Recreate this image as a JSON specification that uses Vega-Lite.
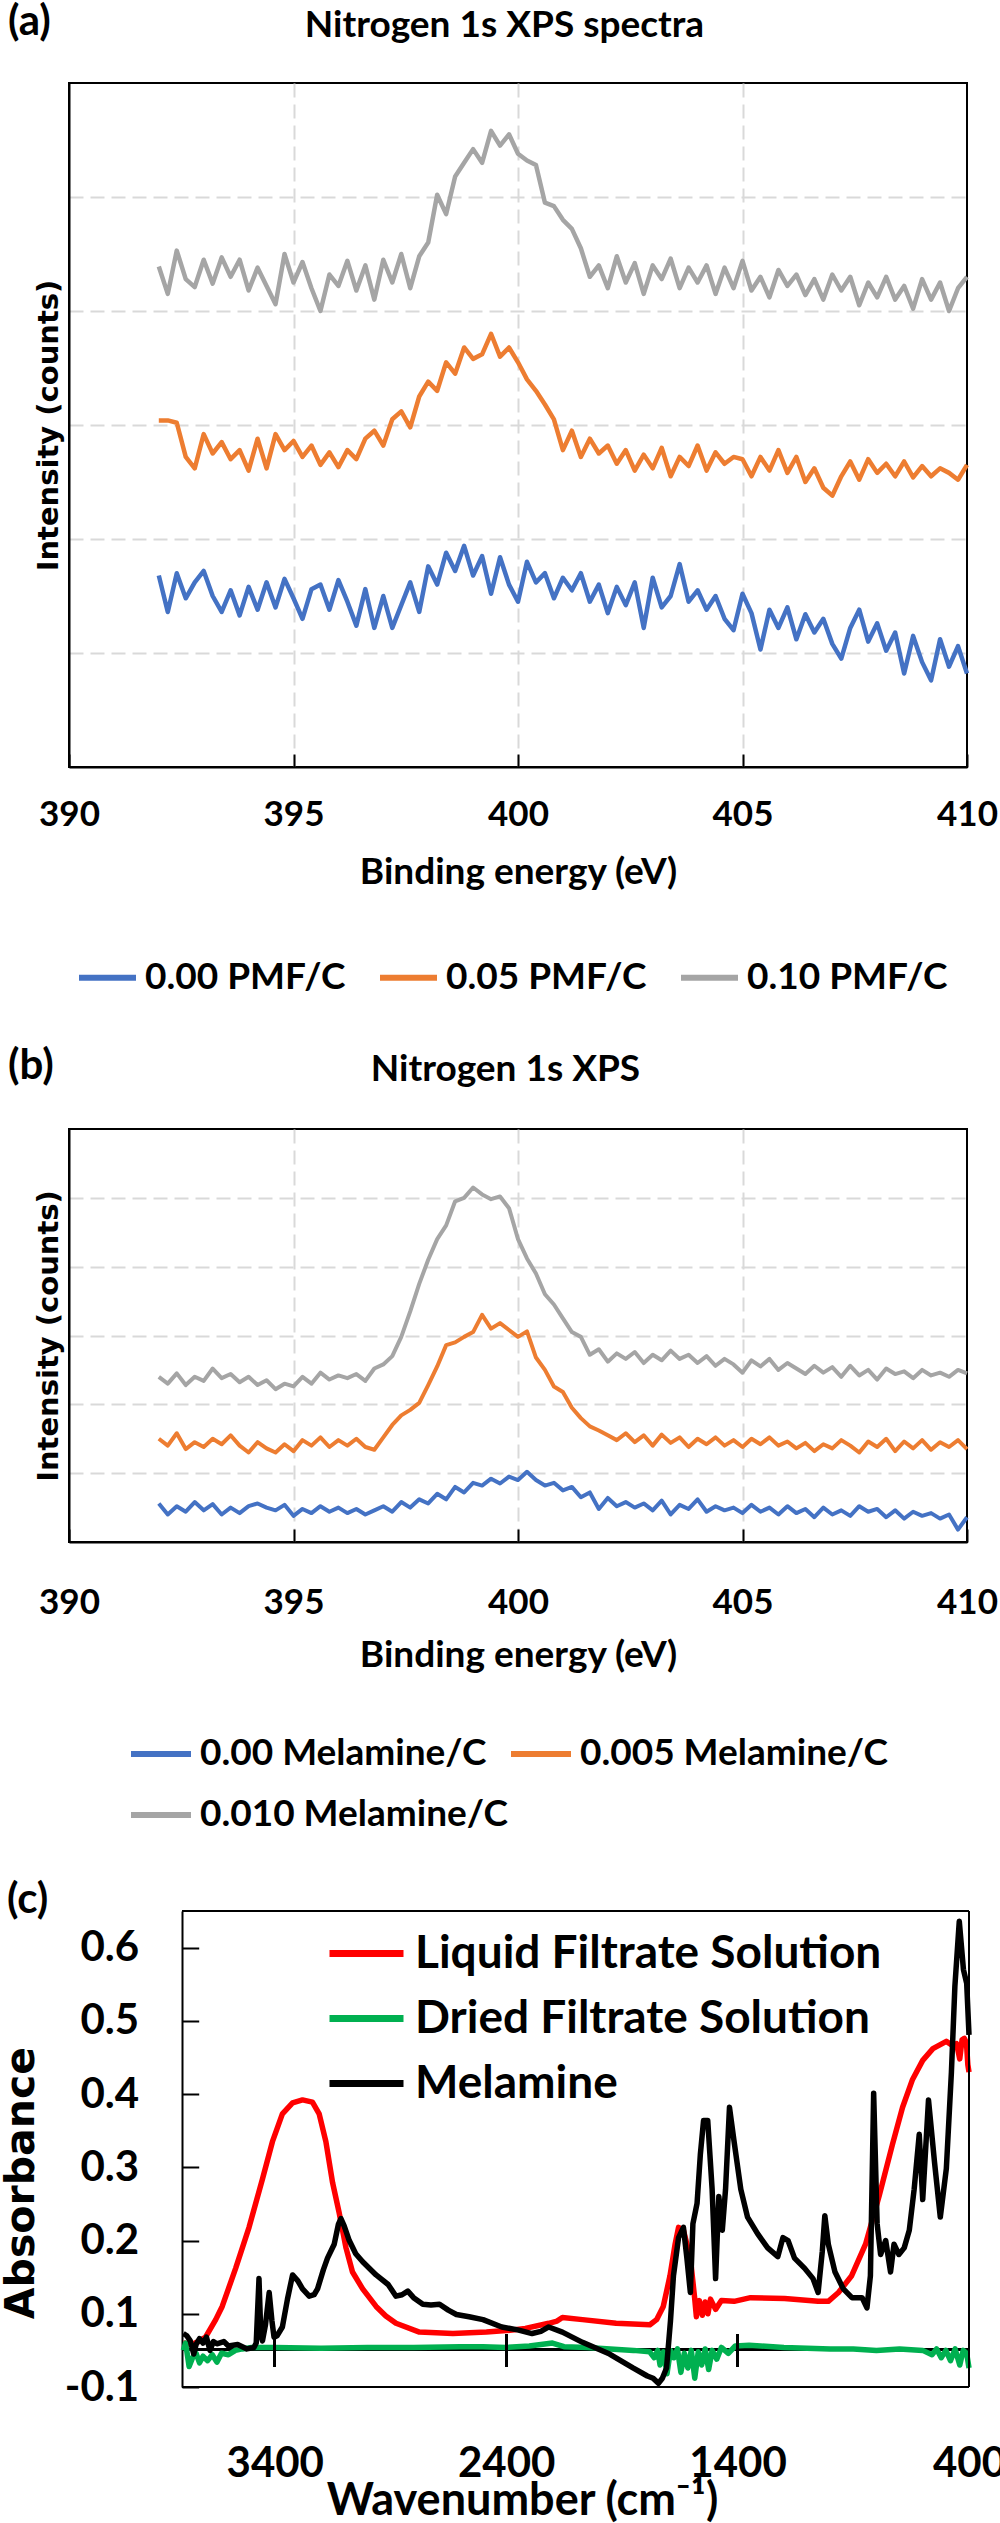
{
"$schema":"https://vega.github.io/schema/vega-lite/v6.json",
"background":"white",
"padding":{"left":0,"top":0,"right":0,"bottom":0},
"spacing":40,
"resolve":{"scale":{"color":"independent"},"legend":{"color":"independent"}},
"config":{
"font":"Lato",
"view":{"stroke":"black","strokeWidth":2},
"axis":{"labelFont":"Lato","titleFont":"Lato","labelFontWeight":"bold","titleFontWeight":"bold","labelColor":"#000","titleColor":"#000","domainColor":"#000","domainWidth":2,"tickColor":"#000","tickWidth":2,"gridColor":"#D9D9D9","gridWidth":2,"gridDash":[14,7],"labelFlush":false,"labelOverlap":false},
"legend":{"labelFont":"Lato","labelFontWeight":"bold","labelColor":"#000","symbolType":"stroke","symbolStrokeWidth":6,"labelLimit":0},
"title":{"font":"Lato","fontWeight":"bold","color":"#000"}
},
"vconcat":[
{
"width":898,"height":684,
"title":{"text":"(a)","anchor":"start","frame":"group","dx":-61,"offset":-38,"fontSize":42,"fontWeight":"bold"},
"data":{"values":[
{"s":"a","x":392,"v":1.68},{"s":"a","x":392.2,"v":1.36},{"s":"a","x":392.4,"v":1.7},{"s":"a","x":392.6,"v":1.48},{"s":"a","x":392.8,"v":1.62},{"s":"a","x":393,"v":1.72},{"s":"a","x":393.2,"v":1.5},{"s":"a","x":393.4,"v":1.36},{"s":"a","x":393.6,"v":1.55},{"s":"a","x":393.8,"v":1.33},
{"s":"a","x":394,"v":1.58},{"s":"a","x":394.2,"v":1.38},{"s":"a","x":394.4,"v":1.62},{"s":"a","x":394.6,"v":1.4},{"s":"a","x":394.8,"v":1.65},{"s":"a","x":395,"v":1.48},{"s":"a","x":395.2,"v":1.3},{"s":"a","x":395.4,"v":1.56},{"s":"a","x":395.6,"v":1.6},{"s":"a","x":395.8,"v":1.38},
{"s":"a","x":396,"v":1.64},{"s":"a","x":396.2,"v":1.45},{"s":"a","x":396.4,"v":1.24},{"s":"a","x":396.6,"v":1.56},{"s":"a","x":396.8,"v":1.22},{"s":"a","x":397,"v":1.5},{"s":"a","x":397.2,"v":1.22},{"s":"a","x":397.4,"v":1.42},{"s":"a","x":397.6,"v":1.62},{"s":"a","x":397.8,"v":1.36},
{"s":"a","x":398,"v":1.76},{"s":"a","x":398.2,"v":1.6},{"s":"a","x":398.4,"v":1.88},{"s":"a","x":398.6,"v":1.72},{"s":"a","x":398.8,"v":1.94},{"s":"a","x":399,"v":1.68},{"s":"a","x":399.2,"v":1.85},{"s":"a","x":399.4,"v":1.52},{"s":"a","x":399.6,"v":1.84},{"s":"a","x":399.8,"v":1.6},
{"s":"a","x":400,"v":1.45},{"s":"a","x":400.2,"v":1.8},{"s":"a","x":400.4,"v":1.62},{"s":"a","x":400.6,"v":1.7},{"s":"a","x":400.8,"v":1.48},{"s":"a","x":401,"v":1.66},{"s":"a","x":401.2,"v":1.55},{"s":"a","x":401.4,"v":1.7},{"s":"a","x":401.6,"v":1.45},{"s":"a","x":401.8,"v":1.6},
{"s":"a","x":402,"v":1.35},{"s":"a","x":402.2,"v":1.58},{"s":"a","x":402.4,"v":1.42},{"s":"a","x":402.6,"v":1.62},{"s":"a","x":402.8,"v":1.22},{"s":"a","x":403,"v":1.66},{"s":"a","x":403.2,"v":1.4},{"s":"a","x":403.4,"v":1.5},{"s":"a","x":403.6,"v":1.78},{"s":"a","x":403.8,"v":1.45},
{"s":"a","x":404,"v":1.55},{"s":"a","x":404.2,"v":1.38},{"s":"a","x":404.4,"v":1.5},{"s":"a","x":404.6,"v":1.3},{"s":"a","x":404.8,"v":1.2},{"s":"a","x":405,"v":1.52},{"s":"a","x":405.2,"v":1.35},{"s":"a","x":405.4,"v":1.03},{"s":"a","x":405.6,"v":1.38},{"s":"a","x":405.8,"v":1.22},
{"s":"a","x":406,"v":1.4},{"s":"a","x":406.2,"v":1.12},{"s":"a","x":406.4,"v":1.34},{"s":"a","x":406.6,"v":1.18},{"s":"a","x":406.8,"v":1.3},{"s":"a","x":407,"v":1.08},{"s":"a","x":407.2,"v":0.95},{"s":"a","x":407.4,"v":1.22},{"s":"a","x":407.6,"v":1.38},{"s":"a","x":407.8,"v":1.1},
{"s":"a","x":408,"v":1.26},{"s":"a","x":408.2,"v":1.02},{"s":"a","x":408.4,"v":1.18},{"s":"a","x":408.6,"v":0.82},{"s":"a","x":408.8,"v":1.15},{"s":"a","x":409,"v":0.92},{"s":"a","x":409.2,"v":0.76},{"s":"a","x":409.4,"v":1.12},{"s":"a","x":409.6,"v":0.88},{"s":"a","x":409.8,"v":1.06},{"s":"a","x":410,"v":0.82},
{"s":"b","x":392,"v":3.04},{"s":"b","x":392.2,"v":3.04},{"s":"b","x":392.4,"v":3.02},{"s":"b","x":392.6,"v":2.72},{"s":"b","x":392.8,"v":2.62},{"s":"b","x":393,"v":2.92},{"s":"b","x":393.2,"v":2.75},{"s":"b","x":393.4,"v":2.85},{"s":"b","x":393.6,"v":2.7},{"s":"b","x":393.8,"v":2.78},
{"s":"b","x":394,"v":2.6},{"s":"b","x":394.2,"v":2.88},{"s":"b","x":394.4,"v":2.62},{"s":"b","x":394.6,"v":2.92},{"s":"b","x":394.8,"v":2.78},{"s":"b","x":395,"v":2.86},{"s":"b","x":395.2,"v":2.72},{"s":"b","x":395.4,"v":2.82},{"s":"b","x":395.6,"v":2.65},{"s":"b","x":395.8,"v":2.76},
{"s":"b","x":396,"v":2.63},{"s":"b","x":396.2,"v":2.78},{"s":"b","x":396.4,"v":2.7},{"s":"b","x":396.6,"v":2.88},{"s":"b","x":396.8,"v":2.95},{"s":"b","x":397,"v":2.82},{"s":"b","x":397.2,"v":3.05},{"s":"b","x":397.4,"v":3.12},{"s":"b","x":397.6,"v":2.98},{"s":"b","x":397.8,"v":3.25},
{"s":"b","x":398,"v":3.38},{"s":"b","x":398.2,"v":3.3},{"s":"b","x":398.4,"v":3.55},{"s":"b","x":398.6,"v":3.45},{"s":"b","x":398.8,"v":3.68},{"s":"b","x":399,"v":3.58},{"s":"b","x":399.2,"v":3.62},{"s":"b","x":399.4,"v":3.8},{"s":"b","x":399.6,"v":3.6},{"s":"b","x":399.8,"v":3.68},
{"s":"b","x":400,"v":3.55},{"s":"b","x":400.2,"v":3.4},{"s":"b","x":400.4,"v":3.3},{"s":"b","x":400.6,"v":3.18},{"s":"b","x":400.8,"v":3.05},{"s":"b","x":401,"v":2.78},{"s":"b","x":401.2,"v":2.95},{"s":"b","x":401.4,"v":2.72},{"s":"b","x":401.6,"v":2.88},{"s":"b","x":401.8,"v":2.75},
{"s":"b","x":402,"v":2.82},{"s":"b","x":402.2,"v":2.66},{"s":"b","x":402.4,"v":2.78},{"s":"b","x":402.6,"v":2.6},{"s":"b","x":402.8,"v":2.74},{"s":"b","x":403,"v":2.62},{"s":"b","x":403.2,"v":2.8},{"s":"b","x":403.4,"v":2.55},{"s":"b","x":403.6,"v":2.72},{"s":"b","x":403.8,"v":2.64},
{"s":"b","x":404,"v":2.82},{"s":"b","x":404.2,"v":2.6},{"s":"b","x":404.4,"v":2.76},{"s":"b","x":404.6,"v":2.66},{"s":"b","x":404.8,"v":2.72},{"s":"b","x":405,"v":2.7},{"s":"b","x":405.2,"v":2.55},{"s":"b","x":405.4,"v":2.72},{"s":"b","x":405.6,"v":2.6},{"s":"b","x":405.8,"v":2.78},
{"s":"b","x":406,"v":2.58},{"s":"b","x":406.2,"v":2.72},{"s":"b","x":406.4,"v":2.5},{"s":"b","x":406.6,"v":2.62},{"s":"b","x":406.8,"v":2.45},{"s":"b","x":407,"v":2.38},{"s":"b","x":407.2,"v":2.55},{"s":"b","x":407.4,"v":2.68},{"s":"b","x":407.6,"v":2.52},{"s":"b","x":407.8,"v":2.7},
{"s":"b","x":408,"v":2.58},{"s":"b","x":408.2,"v":2.66},{"s":"b","x":408.4,"v":2.55},{"s":"b","x":408.6,"v":2.68},{"s":"b","x":408.8,"v":2.54},{"s":"b","x":409,"v":2.64},{"s":"b","x":409.2,"v":2.55},{"s":"b","x":409.4,"v":2.62},{"s":"b","x":409.6,"v":2.58},{"s":"b","x":409.8,"v":2.52},{"s":"b","x":410,"v":2.65},
{"s":"c","x":392,"v":4.39},{"s":"c","x":392.2,"v":4.15},{"s":"c","x":392.4,"v":4.53},{"s":"c","x":392.6,"v":4.28},{"s":"c","x":392.8,"v":4.21},{"s":"c","x":393,"v":4.45},{"s":"c","x":393.2,"v":4.24},{"s":"c","x":393.4,"v":4.47},{"s":"c","x":393.6,"v":4.3},{"s":"c","x":393.8,"v":4.45},
{"s":"c","x":394,"v":4.18},{"s":"c","x":394.2,"v":4.38},{"s":"c","x":394.4,"v":4.22},{"s":"c","x":394.6,"v":4.06},{"s":"c","x":394.8,"v":4.5},{"s":"c","x":395,"v":4.25},{"s":"c","x":395.2,"v":4.43},{"s":"c","x":395.4,"v":4.2},{"s":"c","x":395.6,"v":4.0},{"s":"c","x":395.8,"v":4.32},
{"s":"c","x":396,"v":4.22},{"s":"c","x":396.2,"v":4.44},{"s":"c","x":396.4,"v":4.18},{"s":"c","x":396.6,"v":4.4},{"s":"c","x":396.8,"v":4.1},{"s":"c","x":397,"v":4.45},{"s":"c","x":397.2,"v":4.25},{"s":"c","x":397.4,"v":4.5},{"s":"c","x":397.6,"v":4.2},{"s":"c","x":397.8,"v":4.48},
{"s":"c","x":398,"v":4.6},{"s":"c","x":398.2,"v":5.02},{"s":"c","x":398.4,"v":4.85},{"s":"c","x":398.6,"v":5.18},{"s":"c","x":398.8,"v":5.3},{"s":"c","x":399,"v":5.42},{"s":"c","x":399.2,"v":5.3},{"s":"c","x":399.4,"v":5.58},{"s":"c","x":399.6,"v":5.45},{"s":"c","x":399.8,"v":5.55},
{"s":"c","x":400,"v":5.38},{"s":"c","x":400.2,"v":5.32},{"s":"c","x":400.4,"v":5.28},{"s":"c","x":400.6,"v":4.95},{"s":"c","x":400.8,"v":4.92},{"s":"c","x":401,"v":4.8},{"s":"c","x":401.2,"v":4.72},{"s":"c","x":401.4,"v":4.55},{"s":"c","x":401.6,"v":4.3},{"s":"c","x":401.8,"v":4.4},
{"s":"c","x":402,"v":4.2},{"s":"c","x":402.2,"v":4.48},{"s":"c","x":402.4,"v":4.25},{"s":"c","x":402.6,"v":4.42},{"s":"c","x":402.8,"v":4.15},{"s":"c","x":403,"v":4.4},{"s":"c","x":403.2,"v":4.28},{"s":"c","x":403.4,"v":4.46},{"s":"c","x":403.6,"v":4.2},{"s":"c","x":403.8,"v":4.38},
{"s":"c","x":404,"v":4.25},{"s":"c","x":404.2,"v":4.4},{"s":"c","x":404.4,"v":4.15},{"s":"c","x":404.6,"v":4.38},{"s":"c","x":404.8,"v":4.2},{"s":"c","x":405,"v":4.44},{"s":"c","x":405.2,"v":4.18},{"s":"c","x":405.4,"v":4.3},{"s":"c","x":405.6,"v":4.12},{"s":"c","x":405.8,"v":4.36},
{"s":"c","x":406,"v":4.22},{"s":"c","x":406.2,"v":4.32},{"s":"c","x":406.4,"v":4.14},{"s":"c","x":406.6,"v":4.28},{"s":"c","x":406.8,"v":4.1},{"s":"c","x":407,"v":4.32},{"s":"c","x":407.2,"v":4.18},{"s":"c","x":407.4,"v":4.3},{"s":"c","x":407.6,"v":4.05},{"s":"c","x":407.8,"v":4.25},
{"s":"c","x":408,"v":4.12},{"s":"c","x":408.2,"v":4.3},{"s":"c","x":408.4,"v":4.1},{"s":"c","x":408.6,"v":4.22},{"s":"c","x":408.8,"v":4.02},{"s":"c","x":409,"v":4.28},{"s":"c","x":409.2,"v":4.1},{"s":"c","x":409.4,"v":4.25},{"s":"c","x":409.6,"v":4.0},{"s":"c","x":409.8,"v":4.2},{"s":"c","x":410,"v":4.3}
]},
"layer":[
{"mark":{"type":"line","strokeWidth":4.5,"strokeJoin":"round"},
"encoding":{
"x":{"field":"x","type":"quantitative","scale":{"domain":[390,410],"nice":false,"zero":false},
"axis":{"orient":"bottom","values":[390,395,400,405,410],"format":"d","grid":false,"tickSize":-13,"labelPadding":43,"labelFontSize":35,"title":"Binding energy (eV)","titleFontSize":37,"titleY":105,"titleBaseline":"middle"}},
"y":{"field":"v","type":"quantitative","scale":{"domain":[0,6],"nice":false,"zero":false},
"axis":{"values":[1,2,3,4,5],"labels":false,"ticks":false,"grid":true,"title":"Intensity (counts)","titleFont":"DejaVu Sans","titleFontSize":29,"titlePadding":6}},
"color":{"field":"s","type":"nominal","scale":{"domain":["a","b","c"],"range":["#4472C4","#ED7D31","#A5A5A5"]},
"legend":{"title":null,"orient":"none","legendX":0,"legendY":856,"padding":7,"direction":"horizontal","columns":3,"columnPadding":22,"symbolSize":3249,"labelFontSize":37,"labelOffset":6,
"labelExpr":"datum.value=='a'?'0.00 PMF/C':datum.value=='b'?'0.05 PMF/C':'0.10 PMF/C'"}}
}},
{"mark":{"type":"line","opacity":0},
"encoding":{
"x":{"field":"x","type":"quantitative","axis":{"orient":"top","values":[395,400,405],"labels":false,"ticks":false,"domain":false,"grid":true,"title":"Nitrogen 1s XPS spectra","titleFontSize":37,"titleX":435,"titleY":-58,"titleBaseline":"middle","titleAlign":"center"}}
}}
]
},
{
"width":898,"height":413,
"title":{"text":"(b)","anchor":"start","frame":"group","dx":-61,"offset":-38,"fontSize":42,"fontWeight":"bold"},
"data":{"values":[
{"s":"d","x":392,"v":0.56},{"s":"d","x":392.2,"v":0.4},{"s":"d","x":392.4,"v":0.52},{"s":"d","x":392.6,"v":0.44},{"s":"d","x":392.8,"v":0.58},{"s":"d","x":393,"v":0.46},{"s":"d","x":393.2,"v":0.55},{"s":"d","x":393.4,"v":0.4},{"s":"d","x":393.6,"v":0.5},{"s":"d","x":393.8,"v":0.42},
{"s":"d","x":394,"v":0.52},{"s":"d","x":394.2,"v":0.56},{"s":"d","x":394.4,"v":0.5},{"s":"d","x":394.6,"v":0.46},{"s":"d","x":394.8,"v":0.54},{"s":"d","x":395,"v":0.38},{"s":"d","x":395.2,"v":0.48},{"s":"d","x":395.4,"v":0.42},{"s":"d","x":395.6,"v":0.52},{"s":"d","x":395.8,"v":0.44},
{"s":"d","x":396,"v":0.5},{"s":"d","x":396.2,"v":0.42},{"s":"d","x":396.4,"v":0.48},{"s":"d","x":396.6,"v":0.4},{"s":"d","x":396.8,"v":0.46},{"s":"d","x":397,"v":0.52},{"s":"d","x":397.2,"v":0.44},{"s":"d","x":397.4,"v":0.58},{"s":"d","x":397.6,"v":0.5},{"s":"d","x":397.8,"v":0.62},
{"s":"d","x":398,"v":0.56},{"s":"d","x":398.2,"v":0.7},{"s":"d","x":398.4,"v":0.62},{"s":"d","x":398.6,"v":0.8},{"s":"d","x":398.8,"v":0.72},{"s":"d","x":399,"v":0.86},{"s":"d","x":399.2,"v":0.82},{"s":"d","x":399.4,"v":0.92},{"s":"d","x":399.6,"v":0.85},{"s":"d","x":399.8,"v":0.95},
{"s":"d","x":400,"v":0.9},{"s":"d","x":400.2,"v":1.02},{"s":"d","x":400.4,"v":0.9},{"s":"d","x":400.6,"v":0.82},{"s":"d","x":400.8,"v":0.86},{"s":"d","x":401,"v":0.75},{"s":"d","x":401.2,"v":0.8},{"s":"d","x":401.4,"v":0.65},{"s":"d","x":401.6,"v":0.72},{"s":"d","x":401.8,"v":0.48},
{"s":"d","x":402,"v":0.64},{"s":"d","x":402.2,"v":0.52},{"s":"d","x":402.4,"v":0.58},{"s":"d","x":402.6,"v":0.5},{"s":"d","x":402.8,"v":0.56},{"s":"d","x":403,"v":0.46},{"s":"d","x":403.2,"v":0.6},{"s":"d","x":403.4,"v":0.4},{"s":"d","x":403.6,"v":0.54},{"s":"d","x":403.8,"v":0.48},
{"s":"d","x":404,"v":0.62},{"s":"d","x":404.2,"v":0.44},{"s":"d","x":404.4,"v":0.52},{"s":"d","x":404.6,"v":0.46},{"s":"d","x":404.8,"v":0.5},{"s":"d","x":405,"v":0.42},{"s":"d","x":405.2,"v":0.54},{"s":"d","x":405.4,"v":0.44},{"s":"d","x":405.6,"v":0.5},{"s":"d","x":405.8,"v":0.4},
{"s":"d","x":406,"v":0.52},{"s":"d","x":406.2,"v":0.42},{"s":"d","x":406.4,"v":0.48},{"s":"d","x":406.6,"v":0.36},{"s":"d","x":406.8,"v":0.5},{"s":"d","x":407,"v":0.4},{"s":"d","x":407.2,"v":0.46},{"s":"d","x":407.4,"v":0.38},{"s":"d","x":407.6,"v":0.52},{"s":"d","x":407.8,"v":0.44},
{"s":"d","x":408,"v":0.48},{"s":"d","x":408.2,"v":0.36},{"s":"d","x":408.4,"v":0.46},{"s":"d","x":408.6,"v":0.34},{"s":"d","x":408.8,"v":0.44},{"s":"d","x":409,"v":0.38},{"s":"d","x":409.2,"v":0.42},{"s":"d","x":409.4,"v":0.34},{"s":"d","x":409.6,"v":0.4},{"s":"d","x":409.8,"v":0.18},{"s":"d","x":410,"v":0.36},
{"s":"e","x":392,"v":1.5},{"s":"e","x":392.2,"v":1.4},{"s":"e","x":392.4,"v":1.58},{"s":"e","x":392.6,"v":1.35},{"s":"e","x":392.8,"v":1.45},{"s":"e","x":393,"v":1.38},{"s":"e","x":393.2,"v":1.5},{"s":"e","x":393.4,"v":1.42},{"s":"e","x":393.6,"v":1.55},{"s":"e","x":393.8,"v":1.4},
{"s":"e","x":394,"v":1.3},{"s":"e","x":394.2,"v":1.45},{"s":"e","x":394.4,"v":1.36},{"s":"e","x":394.6,"v":1.3},{"s":"e","x":394.8,"v":1.42},{"s":"e","x":395,"v":1.32},{"s":"e","x":395.2,"v":1.48},{"s":"e","x":395.4,"v":1.4},{"s":"e","x":395.6,"v":1.52},{"s":"e","x":395.8,"v":1.38},
{"s":"e","x":396,"v":1.48},{"s":"e","x":396.2,"v":1.4},{"s":"e","x":396.4,"v":1.5},{"s":"e","x":396.6,"v":1.38},{"s":"e","x":396.8,"v":1.34},{"s":"e","x":397,"v":1.52},{"s":"e","x":397.2,"v":1.7},{"s":"e","x":397.4,"v":1.84},{"s":"e","x":397.6,"v":1.92},{"s":"e","x":397.8,"v":2.02},
{"s":"e","x":398,"v":2.28},{"s":"e","x":398.2,"v":2.55},{"s":"e","x":398.4,"v":2.86},{"s":"e","x":398.6,"v":2.9},{"s":"e","x":398.8,"v":2.98},{"s":"e","x":399,"v":3.05},{"s":"e","x":399.2,"v":3.3},{"s":"e","x":399.4,"v":3.1},{"s":"e","x":399.6,"v":3.18},{"s":"e","x":399.8,"v":3.08},
{"s":"e","x":400,"v":2.98},{"s":"e","x":400.2,"v":3.06},{"s":"e","x":400.4,"v":2.68},{"s":"e","x":400.6,"v":2.5},{"s":"e","x":400.8,"v":2.26},{"s":"e","x":401,"v":2.18},{"s":"e","x":401.2,"v":1.95},{"s":"e","x":401.4,"v":1.8},{"s":"e","x":401.6,"v":1.68},{"s":"e","x":401.8,"v":1.62},
{"s":"e","x":402,"v":1.55},{"s":"e","x":402.2,"v":1.48},{"s":"e","x":402.4,"v":1.58},{"s":"e","x":402.6,"v":1.45},{"s":"e","x":402.8,"v":1.55},{"s":"e","x":403,"v":1.4},{"s":"e","x":403.2,"v":1.56},{"s":"e","x":403.4,"v":1.44},{"s":"e","x":403.6,"v":1.52},{"s":"e","x":403.8,"v":1.38},
{"s":"e","x":404,"v":1.5},{"s":"e","x":404.2,"v":1.42},{"s":"e","x":404.4,"v":1.52},{"s":"e","x":404.6,"v":1.4},{"s":"e","x":404.8,"v":1.48},{"s":"e","x":405,"v":1.38},{"s":"e","x":405.2,"v":1.5},{"s":"e","x":405.4,"v":1.42},{"s":"e","x":405.6,"v":1.52},{"s":"e","x":405.8,"v":1.4},
{"s":"e","x":406,"v":1.46},{"s":"e","x":406.2,"v":1.36},{"s":"e","x":406.4,"v":1.44},{"s":"e","x":406.6,"v":1.32},{"s":"e","x":406.8,"v":1.42},{"s":"e","x":407,"v":1.36},{"s":"e","x":407.2,"v":1.48},{"s":"e","x":407.4,"v":1.4},{"s":"e","x":407.6,"v":1.3},{"s":"e","x":407.8,"v":1.46},
{"s":"e","x":408,"v":1.38},{"s":"e","x":408.2,"v":1.5},{"s":"e","x":408.4,"v":1.32},{"s":"e","x":408.6,"v":1.46},{"s":"e","x":408.8,"v":1.36},{"s":"e","x":409,"v":1.48},{"s":"e","x":409.2,"v":1.34},{"s":"e","x":409.4,"v":1.45},{"s":"e","x":409.6,"v":1.38},{"s":"e","x":409.8,"v":1.48},{"s":"e","x":410,"v":1.35},
{"s":"f","x":392,"v":2.4},{"s":"f","x":392.2,"v":2.3},{"s":"f","x":392.4,"v":2.45},{"s":"f","x":392.6,"v":2.28},{"s":"f","x":392.8,"v":2.4},{"s":"f","x":393,"v":2.34},{"s":"f","x":393.2,"v":2.52},{"s":"f","x":393.4,"v":2.38},{"s":"f","x":393.6,"v":2.44},{"s":"f","x":393.8,"v":2.32},
{"s":"f","x":394,"v":2.4},{"s":"f","x":394.2,"v":2.28},{"s":"f","x":394.4,"v":2.35},{"s":"f","x":394.6,"v":2.22},{"s":"f","x":394.8,"v":2.3},{"s":"f","x":395,"v":2.26},{"s":"f","x":395.2,"v":2.4},{"s":"f","x":395.4,"v":2.3},{"s":"f","x":395.6,"v":2.46},{"s":"f","x":395.8,"v":2.36},
{"s":"f","x":396,"v":2.42},{"s":"f","x":396.2,"v":2.38},{"s":"f","x":396.4,"v":2.44},{"s":"f","x":396.6,"v":2.34},{"s":"f","x":396.8,"v":2.52},{"s":"f","x":397,"v":2.58},{"s":"f","x":397.2,"v":2.7},{"s":"f","x":397.4,"v":2.98},{"s":"f","x":397.6,"v":3.35},{"s":"f","x":397.8,"v":3.75},
{"s":"f","x":398,"v":4.1},{"s":"f","x":398.2,"v":4.4},{"s":"f","x":398.4,"v":4.6},{"s":"f","x":398.6,"v":4.95},{"s":"f","x":398.8,"v":5.0},{"s":"f","x":399,"v":5.15},{"s":"f","x":399.2,"v":5.05},{"s":"f","x":399.4,"v":4.98},{"s":"f","x":399.6,"v":5.02},{"s":"f","x":399.8,"v":4.85},
{"s":"f","x":400,"v":4.4},{"s":"f","x":400.2,"v":4.12},{"s":"f","x":400.4,"v":3.9},{"s":"f","x":400.6,"v":3.6},{"s":"f","x":400.8,"v":3.45},{"s":"f","x":401,"v":3.25},{"s":"f","x":401.2,"v":3.05},{"s":"f","x":401.4,"v":2.98},{"s":"f","x":401.6,"v":2.72},{"s":"f","x":401.8,"v":2.8},
{"s":"f","x":402,"v":2.62},{"s":"f","x":402.2,"v":2.74},{"s":"f","x":402.4,"v":2.66},{"s":"f","x":402.6,"v":2.76},{"s":"f","x":402.8,"v":2.6},{"s":"f","x":403,"v":2.72},{"s":"f","x":403.2,"v":2.64},{"s":"f","x":403.4,"v":2.78},{"s":"f","x":403.6,"v":2.66},{"s":"f","x":403.8,"v":2.72},
{"s":"f","x":404,"v":2.6},{"s":"f","x":404.2,"v":2.7},{"s":"f","x":404.4,"v":2.56},{"s":"f","x":404.6,"v":2.66},{"s":"f","x":404.8,"v":2.58},{"s":"f","x":405,"v":2.46},{"s":"f","x":405.2,"v":2.64},{"s":"f","x":405.4,"v":2.55},{"s":"f","x":405.6,"v":2.66},{"s":"f","x":405.8,"v":2.5},
{"s":"f","x":406,"v":2.6},{"s":"f","x":406.2,"v":2.52},{"s":"f","x":406.4,"v":2.44},{"s":"f","x":406.6,"v":2.56},{"s":"f","x":406.8,"v":2.46},{"s":"f","x":407,"v":2.54},{"s":"f","x":407.2,"v":2.4},{"s":"f","x":407.4,"v":2.56},{"s":"f","x":407.6,"v":2.42},{"s":"f","x":407.8,"v":2.5},
{"s":"f","x":408,"v":2.36},{"s":"f","x":408.2,"v":2.52},{"s":"f","x":408.4,"v":2.44},{"s":"f","x":408.6,"v":2.48},{"s":"f","x":408.8,"v":2.38},{"s":"f","x":409,"v":2.5},{"s":"f","x":409.2,"v":2.42},{"s":"f","x":409.4,"v":2.46},{"s":"f","x":409.6,"v":2.4},{"s":"f","x":409.8,"v":2.5},{"s":"f","x":410,"v":2.45}
]},
"layer":[
{"mark":{"type":"line","strokeWidth":4,"strokeJoin":"round"},
"encoding":{
"x":{"field":"x","type":"quantitative","scale":{"domain":[390,410],"nice":false,"zero":false},
"axis":{"orient":"bottom","values":[390,395,400,405,410],"format":"d","grid":false,"tickSize":-13,"labelPadding":56,"labelFontSize":35,"title":"Binding energy (eV)","titleFontSize":37,"titleY":113,"titleBaseline":"middle"}},
"y":{"field":"v","type":"quantitative","scale":{"domain":[0,6],"nice":false,"zero":false},
"axis":{"values":[1,2,3,4,5],"labels":false,"ticks":false,"grid":true,"title":"Intensity (counts)","titleFont":"DejaVu Sans","titleFontSize":29,"titlePadding":6}},
"color":{"field":"s","type":"nominal","scale":{"domain":["d","e","f"],"range":["#4472C4","#ED7D31","#A5A5A5"]},
"legend":{"title":null,"orient":"none","legendX":54,"legendY":587,"padding":5,"direction":"horizontal","columns":2,"columnPadding":-22,"rowPadding":10,"symbolSize":3600,"labelFontSize":37,"labelOffset":6,
"labelExpr":"datum.value=='d'?'0.00 Melamine/C':datum.value=='e'?'0.005 Melamine/C':'0.010 Melamine/C'"}}
}},
{"mark":{"type":"line","opacity":0},
"encoding":{
"x":{"field":"x","type":"quantitative","axis":{"orient":"top","values":[395,400,405],"labels":false,"ticks":false,"domain":false,"grid":true,"title":"Nitrogen 1s XPS","titleFontSize":37,"titleX":436,"titleY":-60,"titleBaseline":"middle","titleAlign":"center"}}
}}
]
},
{
"width":900,"height":476,
"view":{"stroke":null},
"title":{"text":"(c)","anchor":"start","frame":"group","dx":-62,"offset":-12,"fontSize":42,"fontWeight":"bold"},
"data":{"values":[
{"s":"L","w":3795,"v":0.06},{"s":"L","w":3760,"v":0.058},{"s":"L","w":3730,"v":0.062},{"s":"L","w":3699,"v":0.068},{"s":"L","w":3655,"v":0.092},{"s":"L","w":3627,"v":0.11},{"s":"L","w":3569,"v":0.162},{"s":"L","w":3511,"v":0.218},{"s":"L","w":3453,"v":0.284},{"s":"L","w":3410,"v":0.335},{"s":"L","w":3367,"v":0.373},{"s":"L","w":3323,"v":0.388},{"s":"L","w":3280,"v":0.392},{"s":"L","w":3237,"v":0.389},{"s":"L","w":3208,"v":0.373},{"s":"L","w":3179,"v":0.335},{"s":"L","w":3150,"v":0.279},{"s":"L","w":3121,"v":0.237},{"s":"L","w":3092,"v":0.19},{"s":"L","w":3064,"v":0.157},{"s":"L","w":3020,"v":0.134},{"s":"L","w":2962,"v":0.11},{"s":"L","w":2920,"v":0.097},{"s":"L","w":2876,"v":0.087},{"s":"L","w":2775,"v":0.075},{"s":"L","w":2630,"v":0.073},{"s":"L","w":2485,"v":0.075},{"s":"L","w":2400,"v":0.077},{"s":"L","w":2317,"v":0.08},{"s":"L","w":2216,"v":0.087},{"s":"L","w":2180,"v":0.09},{"s":"L","w":2157,"v":0.095},{"s":"L","w":2070,"v":0.092},{"s":"L","w":1925,"v":0.087},{"s":"L","w":1779,"v":0.085},{"s":"L","w":1750,"v":0.092},{"s":"L","w":1721,"v":0.11},{"s":"L","w":1692,"v":0.152},{"s":"L","w":1670,"v":0.195},{"s":"L","w":1655,"v":0.218},{"s":"L","w":1634,"v":0.214},{"s":"L","w":1604,"v":0.176},{"s":"L","w":1585,"v":0.12},{"s":"L","w":1578,"v":0.096},{"s":"L","w":1565,"v":0.118},{"s":"L","w":1552,"v":0.098},{"s":"L","w":1540,"v":0.116},{"s":"L","w":1528,"v":0.1},{"s":"L","w":1517,"v":0.12},{"s":"L","w":1495,"v":0.106},{"s":"L","w":1470,"v":0.118},{"s":"L","w":1415,"v":0.117},{"s":"L","w":1344,"v":0.122},{"s":"L","w":1197,"v":0.121},{"s":"L","w":1052,"v":0.117},{"s":"L","w":1008,"v":0.117},{"s":"L","w":964,"v":0.129},{"s":"L","w":907,"v":0.152},{"s":"L","w":847,"v":0.195},{"s":"L","w":789,"v":0.26},{"s":"L","w":731,"v":0.331},{"s":"L","w":687,"v":0.382},{"s":"L","w":644,"v":0.42},{"s":"L","w":600,"v":0.446},{"s":"L","w":556,"v":0.462},{"s":"L","w":498,"v":0.472},{"s":"L","w":470,"v":0.466},{"s":"L","w":454,"v":0.469},{"s":"L","w":440,"v":0.448},{"s":"L","w":430,"v":0.474},{"s":"L","w":420,"v":0.476},{"s":"L","w":411,"v":0.47},{"s":"L","w":405,"v":0.44},{"s":"L","w":400,"v":0.43},
{"s":"D","w":3795,"v":0.05},{"s":"D","w":3785,"v":0.06},{"s":"D","w":3770,"v":0.028},{"s":"D","w":3755,"v":0.04},{"s":"D","w":3740,"v":0.046},{"s":"D","w":3725,"v":0.033},{"s":"D","w":3710,"v":0.042},{"s":"D","w":3690,"v":0.036},{"s":"D","w":3670,"v":0.044},{"s":"D","w":3650,"v":0.034},{"s":"D","w":3630,"v":0.046},{"s":"D","w":3600,"v":0.044},{"s":"D","w":3570,"v":0.05},{"s":"D","w":3540,"v":0.052},{"s":"D","w":3500,"v":0.054},{"s":"D","w":3400,"v":0.054},{"s":"D","w":3200,"v":0.053},{"s":"D","w":3000,"v":0.054},{"s":"D","w":2800,"v":0.054},{"s":"D","w":2600,"v":0.055},{"s":"D","w":2500,"v":0.055},{"s":"D","w":2400,"v":0.054},{"s":"D","w":2300,"v":0.056},{"s":"D","w":2200,"v":0.06},{"s":"D","w":2150,"v":0.055},{"s":"D","w":2050,"v":0.054},{"s":"D","w":1950,"v":0.052},{"s":"D","w":1850,"v":0.05},{"s":"D","w":1780,"v":0.048},{"s":"D","w":1760,"v":0.04},{"s":"D","w":1745,"v":0.05},{"s":"D","w":1735,"v":0.03},{"s":"D","w":1720,"v":0.048},{"s":"D","w":1705,"v":0.018},{"s":"D","w":1690,"v":0.05},{"s":"D","w":1675,"v":0.04},{"s":"D","w":1660,"v":0.052},{"s":"D","w":1645,"v":0.02},{"s":"D","w":1630,"v":0.046},{"s":"D","w":1615,"v":0.026},{"s":"D","w":1600,"v":0.05},{"s":"D","w":1585,"v":0.012},{"s":"D","w":1570,"v":0.048},{"s":"D","w":1555,"v":0.03},{"s":"D","w":1540,"v":0.052},{"s":"D","w":1525,"v":0.024},{"s":"D","w":1510,"v":0.05},{"s":"D","w":1490,"v":0.038},{"s":"D","w":1470,"v":0.054},{"s":"D","w":1440,"v":0.046},{"s":"D","w":1410,"v":0.056},{"s":"D","w":1350,"v":0.057},{"s":"D","w":1300,"v":0.056},{"s":"D","w":1200,"v":0.054},{"s":"D","w":1100,"v":0.053},{"s":"D","w":1000,"v":0.052},{"s":"D","w":900,"v":0.052},{"s":"D","w":800,"v":0.05},{"s":"D","w":700,"v":0.052},{"s":"D","w":600,"v":0.05},{"s":"D","w":560,"v":0.044},{"s":"D","w":540,"v":0.052},{"s":"D","w":520,"v":0.04},{"s":"D","w":500,"v":0.05},{"s":"D","w":480,"v":0.036},{"s":"D","w":460,"v":0.052},{"s":"D","w":440,"v":0.03},{"s":"D","w":425,"v":0.05},{"s":"D","w":410,"v":0.046},{"s":"D","w":400,"v":0.026},
{"s":"M","w":3795,"v":0.073},{"s":"M","w":3780,"v":0.07},{"s":"M","w":3765,"v":0.063},{"s":"M","w":3750,"v":0.045},{"s":"M","w":3740,"v":0.058},{"s":"M","w":3725,"v":0.066},{"s":"M","w":3710,"v":0.06},{"s":"M","w":3695,"v":0.068},{"s":"M","w":3680,"v":0.05},{"s":"M","w":3665,"v":0.062},{"s":"M","w":3650,"v":0.059},{"s":"M","w":3620,"v":0.062},{"s":"M","w":3600,"v":0.056},{"s":"M","w":3560,"v":0.058},{"s":"M","w":3520,"v":0.052},{"s":"M","w":3490,"v":0.054},{"s":"M","w":3480,"v":0.06},{"s":"M","w":3468,"v":0.148},{"s":"M","w":3460,"v":0.07},{"s":"M","w":3453,"v":0.063},{"s":"M","w":3440,"v":0.085},{"s":"M","w":3424,"v":0.129},{"s":"M","w":3412,"v":0.09},{"s":"M","w":3403,"v":0.068},{"s":"M","w":3390,"v":0.07},{"s":"M","w":3367,"v":0.082},{"s":"M","w":3345,"v":0.12},{"s":"M","w":3323,"v":0.153},{"s":"M","w":3300,"v":0.145},{"s":"M","w":3280,"v":0.134},{"s":"M","w":3251,"v":0.124},{"s":"M","w":3230,"v":0.126},{"s":"M","w":3215,"v":0.134},{"s":"M","w":3190,"v":0.16},{"s":"M","w":3172,"v":0.176},{"s":"M","w":3143,"v":0.195},{"s":"M","w":3125,"v":0.222},{"s":"M","w":3114,"v":0.23},{"s":"M","w":3100,"v":0.22},{"s":"M","w":3078,"v":0.2},{"s":"M","w":3050,"v":0.182},{"s":"M","w":3020,"v":0.171},{"s":"M","w":2962,"v":0.153},{"s":"M","w":2910,"v":0.14},{"s":"M","w":2876,"v":0.124},{"s":"M","w":2850,"v":0.126},{"s":"M","w":2825,"v":0.131},{"s":"M","w":2800,"v":0.122},{"s":"M","w":2760,"v":0.113},{"s":"M","w":2725,"v":0.112},{"s":"M","w":2688,"v":0.113},{"s":"M","w":2650,"v":0.105},{"s":"M","w":2615,"v":0.099},{"s":"M","w":2560,"v":0.096},{"s":"M","w":2500,"v":0.092},{"s":"M","w":2419,"v":0.082},{"s":"M","w":2350,"v":0.078},{"s":"M","w":2288,"v":0.073},{"s":"M","w":2250,"v":0.076},{"s":"M","w":2216,"v":0.082},{"s":"M","w":2157,"v":0.075},{"s":"M","w":2070,"v":0.061},{"s":"M","w":1953,"v":0.045},{"s":"M","w":1852,"v":0.026},{"s":"M","w":1790,"v":0.015},{"s":"M","w":1765,"v":0.012},{"s":"M","w":1742,"v":0.005},{"s":"M","w":1725,"v":0.012},{"s":"M","w":1707,"v":0.026},{"s":"M","w":1690,"v":0.09},{"s":"M","w":1677,"v":0.152},{"s":"M","w":1655,"v":0.204},{"s":"M","w":1634,"v":0.218},{"s":"M","w":1619,"v":0.176},{"s":"M","w":1604,"v":0.129},{"s":"M","w":1593,"v":0.223},{"s":"M","w":1575,"v":0.251},{"s":"M","w":1561,"v":0.317},{"s":"M","w":1547,"v":0.364},{"s":"M","w":1529,"v":0.364},{"s":"M","w":1510,"v":0.27},{"s":"M","w":1495,"v":0.148},{"s":"M","w":1481,"v":0.26},{"s":"M","w":1466,"v":0.214},{"s":"M","w":1452,"v":0.27},{"s":"M","w":1435,"v":0.382},{"s":"M","w":1415,"v":0.335},{"s":"M","w":1386,"v":0.27},{"s":"M","w":1357,"v":0.232},{"s":"M","w":1313,"v":0.209},{"s":"M","w":1270,"v":0.19},{"s":"M","w":1226,"v":0.178},{"s":"M","w":1204,"v":0.204},{"s":"M","w":1182,"v":0.2},{"s":"M","w":1154,"v":0.176},{"s":"M","w":1110,"v":0.162},{"s":"M","w":1074,"v":0.148},{"s":"M","w":1052,"v":0.129},{"s":"M","w":1034,"v":0.185},{"s":"M","w":1023,"v":0.234},{"s":"M","w":1008,"v":0.195},{"s":"M","w":979,"v":0.157},{"s":"M","w":943,"v":0.134},{"s":"M","w":906,"v":0.122},{"s":"M","w":862,"v":0.122},{"s":"M","w":841,"v":0.108},{"s":"M","w":826,"v":0.152},{"s":"M","w":812,"v":0.401},{"s":"M","w":797,"v":0.223},{"s":"M","w":782,"v":0.181},{"s":"M","w":760,"v":0.2},{"s":"M","w":739,"v":0.157},{"s":"M","w":724,"v":0.195},{"s":"M","w":703,"v":0.181},{"s":"M","w":680,"v":0.19},{"s":"M","w":658,"v":0.214},{"s":"M","w":637,"v":0.27},{"s":"M","w":615,"v":0.345},{"s":"M","w":600,"v":0.256},{"s":"M","w":575,"v":0.392},{"s":"M","w":549,"v":0.307},{"s":"M","w":524,"v":0.232},{"s":"M","w":498,"v":0.298},{"s":"M","w":476,"v":0.43},{"s":"M","w":461,"v":0.547},{"s":"M","w":442,"v":0.636},{"s":"M","w":424,"v":0.57},{"s":"M","w":410,"v":0.551},{"s":"M","w":400,"v":0.481}
]},
"layer":[
{"mark":{"type":"rule","color":"black","strokeWidth":2},"encoding":{"x":{"datum":3800,"type":"quantitative"},"x2":{"datum":400},"y":{"datum":0.0511,"type":"quantitative"}}},
{"mark":{"type":"line","strokeWidth":5.5,"strokeJoin":"round"},
"encoding":{
"x":{"field":"w","type":"quantitative","scale":{"domain":[400,4289],"reverse":true,"nice":false,"zero":false},
"axis":{"orient":"bottom","values":[3400,2400,1400,400],"format":"d","domain":false,"ticks":false,"tickSize":0,"grid":false,"labelPadding":56,"labelFontSize":42,"title":"Wavenumber (cm⁻¹)","titleFontSize":45,"titleX":453,"titleY":113,"titleBaseline":"middle","titleAlign":"center"}},
"y":{"field":"v","type":"quantitative","scale":{"domain":[0,0.65],"nice":false,"zero":false},
"axis":{"orient":"left","offset":-113,"values":[0,0.1,0.2,0.3,0.4,0.5,0.6],"grid":false,"tickSize":-16.7,"labelPadding":60,"labelFontSize":42,"labelFlush":false,"labelBaseline":"middle","labelExpr":"datum.value==0?'-0.1':format(datum.value,'.1f')","title":"Absorbance","titleFont":"DejaVu Sans","titleFontSize":41,"titleX":-160.5,"titleY":271.6,"titleBaseline":"middle","titleAlign":"center"}},
"color":{"field":"s","type":"nominal","scale":{"domain":["L","D","M"],"range":["#FF0000","#00B050","#000000"]},
"legend":{"title":null,"orient":"none","legendX":257,"legendY":2,"direction":"vertical","symbolSize":5476,"symbolStrokeWidth":7,"labelFontSize":46,"labelOffset":8,"rowPadding":1,
"labelExpr":"datum.value=='L'?'Liquid Filtrate Solution':datum.value=='D'?'Dried Filtrate Solution':'Melamine'"}}
}},
{"mark":{"type":"rule","color":"black","strokeWidth":2},"encoding":{"x":{"datum":3800,"type":"quantitative"},"x2":{"datum":400},"y":{"datum":0.65,"type":"quantitative"}}},
{"mark":{"type":"rule","color":"black","strokeWidth":2},"encoding":{"x":{"datum":3800,"type":"quantitative"},"x2":{"datum":400},"y":{"datum":0,"type":"quantitative"}}},
{"mark":{"type":"rule","color":"black","strokeWidth":2},"encoding":{"x":{"datum":400,"type":"quantitative"},"y":{"datum":0,"type":"quantitative"},"y2":{"datum":0.65}}},
{"mark":{"type":"rule","color":"black","strokeWidth":2},"encoding":{"x":{"datum":3400,"type":"quantitative"},"y":{"datum":0.0277,"type":"quantitative"},"y2":{"datum":0.0714}}},
{"mark":{"type":"rule","color":"black","strokeWidth":2},"encoding":{"x":{"datum":2400,"type":"quantitative"},"y":{"datum":0.0277,"type":"quantitative"},"y2":{"datum":0.0714}}},
{"mark":{"type":"rule","color":"black","strokeWidth":2},"encoding":{"x":{"datum":1400,"type":"quantitative"},"y":{"datum":0.0277,"type":"quantitative"},"y2":{"datum":0.0714}}}
]
}
]
}
